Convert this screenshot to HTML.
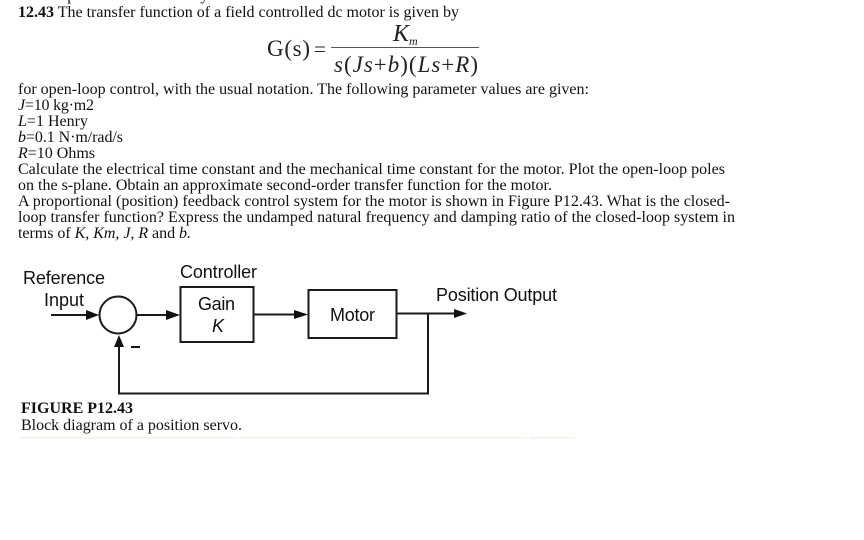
<!DOCTYPE html>
<html><head><meta charset="utf-8"><style>
html,body{margin:0;padding:0;background:#fff;width:864px;height:540px;overflow:hidden}
svg{display:block}
.t{font-family:"Liberation Serif",serif;font-size:16px;fill:#111}
.s{font-family:"Liberation Sans",sans-serif;font-size:18px;fill:#111}
.m{font-family:"Liberation Serif",serif;fill:#222}
</style></head><body>
<svg width="864" height="540" viewBox="0 0 864 540" xmlns="http://www.w3.org/2000/svg">
<text class="t" x="19" y="0" textLength="231">the output to zero at steady state.</text>
<text class="t" x="18" y="17" textLength="441"><tspan font-weight="bold">12.43</tspan> The transfer function of a field controlled dc motor is given by</text>

<text class="m" x="267" y="56" font-size="23" textLength="43">G(s)</text>
<text class="m" x="314" y="56" font-size="21">=</text>
<text class="m" x="393" y="41" font-size="24" font-style="italic">K</text>
<text class="m" x="409" y="45" font-size="12" font-style="italic">m</text>
<rect x="331" y="47" width="148" height="1" fill="#555"/>
<text class="m" x="334" y="72" font-size="23" textLength="144"><tspan font-style="italic">s</tspan>(<tspan font-style="italic">Js</tspan>+<tspan font-style="italic">b</tspan>)(<tspan font-style="italic">Ls</tspan>+<tspan font-style="italic">R</tspan>)</text>

<text class="t" x="18" y="94" textLength="571">for open-loop control, with the usual notation. The following parameter values are given:</text>
<text class="t" x="18" y="110" textLength="76"><tspan font-style="italic">J</tspan>=10 kg·m2</text>
<text class="t" x="18" y="126" textLength="70"><tspan font-style="italic">L</tspan>=1 Henry</text>
<text class="t" x="18" y="142" textLength="105"><tspan font-style="italic">b</tspan>=0.1 N·m/rad/s</text>
<text class="t" x="18" y="158" textLength="77"><tspan font-style="italic">R</tspan>=10 Ohms</text>
<text class="t" x="18" y="174" textLength="707">Calculate the electrical time constant and the mechanical time constant for the motor. Plot the open-loop poles</text>
<text class="t" x="18" y="190" textLength="534">on the s-plane. Obtain an approximate second-order transfer function for the motor.</text>
<text class="t" x="18" y="206" textLength="712">A proportional (position) feedback control system for the motor is shown in Figure P12.43. What is the closed-</text>
<text class="t" x="18" y="222" textLength="717">loop transfer function? Express the undamped natural frequency and damping ratio of the closed-loop system in</text>
<text class="t" x="18" y="238" textLength="173">terms of <tspan font-style="italic">K, Km, J, R</tspan> and <tspan font-style="italic">b.</tspan></text>

<text class="s" x="23" y="284" textLength="82">Reference</text>
<text class="s" x="44" y="306" textLength="40">Input</text>
<text class="s" x="180" y="278" textLength="77">Controller</text>
<text class="s" x="198" y="310" textLength="37">Gain</text>
<text class="s" x="212" y="332" font-style="italic">K</text>
<text class="s" x="330" y="321" textLength="45">Motor</text>
<text class="s" x="436" y="301" textLength="121">Position Output</text>

<g fill="none" stroke="#1a1a1a" stroke-width="2">
<circle cx="118" cy="315" r="18.5"/>
<rect x="180.5" y="287" width="73" height="55"/>
<rect x="308.5" y="290" width="88" height="48"/>
<path d="M51 315H90M137 315H170M254 314.5H298M397 313.5H458M428 314V393.5H119V345"/>
</g>
<g fill="#111">
<path d="M86 310L99 315L86 320Z"/>
<path d="M166 310L180 315L166 320Z"/>
<path d="M294 310L308 314.5L294 319Z"/>
<path d="M454 309L467 313.5L454 318Z"/>
<path d="M119 335L114 347H124Z"/>
<rect x="131" y="346" width="9" height="2"/>
</g>

<text class="t" x="21" y="413" font-weight="bold" textLength="112">FIGURE P12.43</text>
<text class="t" x="21" y="430" textLength="221">Block diagram of a position servo.</text>
<rect x="20" y="437" width="216" height="1.5" fill="#f2f2e6"/>
<rect x="239" y="437" width="288" height="1.5" fill="#f2f2e6"/>
<rect x="530" y="437" width="45" height="1.5" fill="#f2f2e6"/>
</svg>
</body></html>
